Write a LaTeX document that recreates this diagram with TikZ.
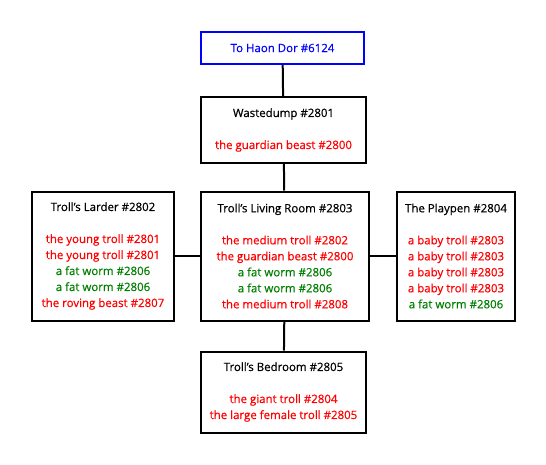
\documentclass[tikz,border=0pt]{standalone}
\usepackage{fontspec}
\setmainfont{Open Sans}[FakeBold=0.6]
\usepackage{tikz}

\definecolor{mobred}{RGB}{255,0,0}
\definecolor{mobgreen}{RGB}{0,128,0}
\definecolor{exitblue}{RGB}{0,0,255}
\newcommand{\mob}[1]{\textcolor{mobred}{#1}}
\newcommand{\worm}[1]{\textcolor{mobgreen}{#1}}

\begin{document}
\begin{tikzpicture}[x=0.75pt, y=-0.75pt, every node/.style={font=\fontsize{8.6}{12}\selectfont},
	room/.style={draw, line width=1.5pt, fill=white, align=center, inner sep=0pt},
	exitroom/.style={room, draw=exitblue, text=exitblue},
	link/.style={line width=1.5pt}]
	\useasboundingbox (0,0) rectangle (546,464);
	\node[exitroom, minimum width=122.25pt, minimum height=24pt] (haon) at (282.5,48) {To Haon Dor \#6124};
	\node[room, minimum width=123.75pt, minimum height=49.5pt] (waste) at (283.5,130) {Wastedump \#2801\\[12pt]\mob{the guardian beast \#2800}};
	\node[room, minimum width=106.5pt, minimum height=96.75pt] (larder) at (103,256) {Troll's Larder \#2802\\[12pt]\mob{the young troll \#2801}\\\mob{the young troll \#2801}\\\worm{a fat worm \#2806}\\\worm{a fat worm \#2806}\\\mob{the roving beast \#2807}};
	\node[room, minimum width=126pt, minimum height=96.75pt] (living) at (285,256) {Troll's Living Room \#2803\\[12pt]\mob{the medium troll \#2802}\\\mob{the guardian beast \#2800}\\\worm{a fat worm \#2806}\\\worm{a fat worm \#2806}\\\mob{the medium troll \#2808}};
	\node[room, minimum width=88.5pt, minimum height=96.75pt] (playpen) at (456,256) {The Playpen \#2804\\[12pt]\mob{a baby troll \#2803}\\\mob{a baby troll \#2803}\\\mob{a baby troll \#2803}\\\mob{a baby troll \#2803}\\\worm{a fat worm \#2806}};
	\node[room, minimum width=123.75pt, minimum height=60.75pt] (bedroom) at (283.5,392) {Troll's Bedroom \#2805\\[12pt]\mob{the giant troll \#2804}\\\mob{the large female troll \#2805}};
	\draw[link] (haon) -- (waste);
	\draw[link] (waste) -- (living);
	\draw[link] (larder) -- (living);
	\draw[link] (living) -- (playpen);
	\draw[link] (living) -- (bedroom);
\end{tikzpicture}
\end{document}
